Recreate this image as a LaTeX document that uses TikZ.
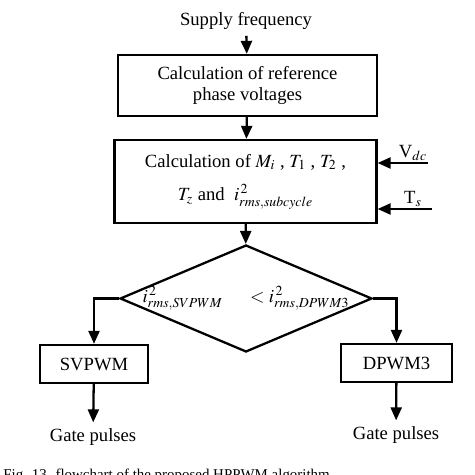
\documentclass[tikz,border=0pt]{standalone}
\usepackage{mathptmx}
\usepackage{fontspec}
\setmainfont{Liberation Serif}
\usetikzlibrary{positioning, shapes, arrows.meta}

\begin{document}
\begin{tikzpicture}[x=0.02cm, y=-0.02cm,
font=\fontsize{10.6}{12}\selectfont,
box/.style={
  rectangle,
  draw, line width=1.3pt,
  align=center,
  inner sep=0pt
},
decide/.style={
  diamond,
  draw, line width=1.3pt,
  inner sep=0pt,
  minimum width=5.04cm, minimum height=2.14cm
},
arr/.style={line width=1.3pt, -{Triangle[length=2.6mm,width=2.2mm]}}]

\useasboundingbox (0,0) rectangle (474,475);

\node (freq) at (246,21) {Supply frequency};
\node (ref) [box, minimum width=5.18cm, minimum height=1.22cm] at (247.5,85.5)
        {Calculation of reference\\ phase voltages};
\node (calc) [box, minimum width=5.24cm, minimum height=1.66cm] at (245.5,181.5)
        {Calculation of $M_i$ , $T_1$ , $T_2$ ,\\[7pt]
         $T_z$ and \ $i^{\,2}_{rms,subcycle}$};
\node (dec) [decide] at (246,298.5)
        {\makebox[0pt]{$i^{\,2}_{rms,SVPWM}\quad\ <i^{\,2}_{rms,DPWM3}$}};
\node (svpwm) [box, minimum width=2.16cm, minimum height=0.76cm] at (94,364) {SVPWM};
\node (dpwm) [box, minimum width=2.22cm, minimum height=0.76cm] at (396.5,363) {DPWM3};
\node (gate1) at (93,437) {Gate pulses};
\node (gate2) at (396,435) {Gate pulses};

% external inputs
\coordinate (vin) at (428,163);
\coordinate (tin) at (432,209);
\node (vdc) [anchor=south, inner sep=1pt] at (413,163) {V$_{dc}$};
\node (ts) [anchor=south, inner sep=1pt] at (413,209) {T$_s$};

\draw[arr] (freq) -- (ref);
\draw[arr] (ref) -- (calc);
\draw[arr] (calc) -- (dec);
\draw[arr] (dec.west) -| (svpwm);
\draw[arr] (dec.east) -| (dpwm);
\draw[arr] (svpwm) -- (gate1);
\draw[arr] (dpwm) -- (gate2);
\draw[arr] (vin) -- (calc.east |- vin);
\draw[arr] (tin) -- (calc.east |- tin);

\node (cap) [anchor=north west, inner sep=0pt, font=\fontsize{8.5}{10}\selectfont] at (3,469)
        {Fig. 13. flowchart of the proposed HPPWM algorithm.};
\end{tikzpicture}
\end{document}
